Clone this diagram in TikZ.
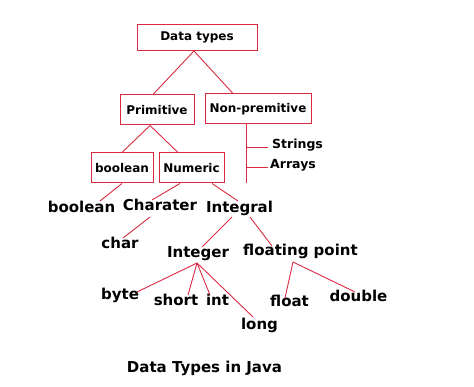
\documentclass[tikz,border=0pt]{standalone}
\usepackage{fontspec}
\setmainfont{DejaVu Sans}
\definecolor{lred}{RGB}{218,42,66}
\begin{document}
\begin{tikzpicture}[x=1pt,y=-1pt,
  box/.style={draw=lred,line width=1pt,inner sep=0pt,font=\fontsize{12}{14}\selectfont\bfseries},
  lbl/.style={inner sep=0pt,font=\fontsize{15}{18}\selectfont\bfseries,text height=11pt,text depth=1pt},
  sml/.style={inner sep=0pt,font=\fontsize{12.5}{15}\selectfont\bfseries,anchor=west,text height=9pt,text depth=1pt},
  ln/.style={draw=lred,line width=0.9pt}]
\useasboundingbox (0,0) rectangle (474,387);
\node[box,minimum width=120pt,minimum height=26pt] (dt) at (197,37.5) {Data types};
\node[box,minimum width=74pt,minimum height=30pt] (prim) at (157,110) {Primitive};
\node[box,minimum width=106pt,minimum height=30pt] (nonp) at (258,109) {Non-premitive};
\node[box,minimum width=62pt,minimum height=30pt] (bool) at (122,168) {boolean};
\node[box,minimum width=65pt,minimum height=30pt] (num) at (191.5,168) {Numeric};
\node[sml] (strings) at (272,145) {Strings};
\node[sml] (arrays) at (270,165) {Arrays};
\coordinate (nb) at (246,183);
\node[lbl] (boolL) at (81.5,208) {boolean};
\node[lbl] (chart) at (160,206) {Charater};
\node[lbl] (integral) at (239.5,208) {Integral};
\node[lbl] (char) at (120,244) {char};
\node[lbl] (integer) at (198,253) {Integer};
\node[lbl] (fp) at (300.5,251) {floating point};
\node[lbl] (byte) at (120,295) {byte};
\node[lbl] (short) at (176,301) {short};
\node[lbl] (int) at (217.5,301) {int};
\node[lbl] (long) at (259.5,325) {long};
\node[lbl] (float) at (289.5,302) {float};
\node[lbl] (double) at (358.5,297) {double};
\node[lbl] (title) at (204.5,367) {Data Types in Java};
% connectors
\draw[ln] ([xshift=-3pt]dt.south) -- ([xshift=-4pt]prim.north);
\draw[ln] ([xshift=-3pt]dt.south) -- ([xshift=-25pt]nonp.north);
\draw[ln] ([xshift=-7pt]prim.south) -- (bool.north);
\draw[ln] ([xshift=-7pt]prim.south) -- ([xshift=-13.5pt]num.north);
\draw[ln] ([xshift=-12pt]nonp.south) -- (nb);
\draw[ln] ([yshift=-2pt]strings.west -| nb) -- ([xshift=-4pt,yshift=-2pt]strings.west);
\draw[ln] ([yshift=-2pt]arrays.west -| nb) -- ([xshift=-2pt,yshift=-2pt]arrays.west);
\draw[ln] (bool.south) -- ([shift={(18.5,-7)}]boolL.center);
\draw[ln] ([xshift=-11.5pt]num.south) -- ([shift={(-8,-6)}]chart.center);
\draw[ln] ([shift={(-10,11)}]chart.center) -- ([shift={(3,-6)}]char.center);
\draw[ln] ([xshift=20.5pt]num.south) -- ([shift={(-1.5,-7)}]integral.center);
\draw[ln] ([shift={(-7.5,9)}]integral.center) -- ([shift={(4,-6)}]integer.center);
\draw[ln] ([shift={(10.5,9)}]integral.center) -- ([shift={(-28.5,-5)}]fp.center);
\draw[ln] ([shift={(-1,10)}]integer.center) -- ([shift={(17,-3)}]byte.center);
\draw[ln] ([shift={(-1,10)}]integer.center) -- ([shift={(12,-6)}]short.center);
\draw[ln] ([shift={(-1,10)}]integer.center) -- ([shift={(-7.5,-6)}]int.center);
\draw[ln] ([shift={(-1,10)}]integer.center) -- ([shift={(-6.5,-8)}]long.center);
\draw[ln] ([shift={(-7.5,11)}]fp.center) -- ([shift={(-4.5,-4)}]float.center);
\draw[ln] ([shift={(-7.5,11)}]fp.center) -- ([shift={(-3.5,-5)}]double.center);
\end{tikzpicture}
\end{document}
